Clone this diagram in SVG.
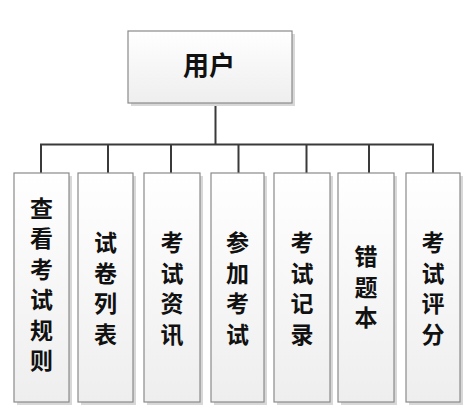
<svg xmlns="http://www.w3.org/2000/svg" width="474" height="418" viewBox="0 0 474 418">
<style>
.box{fill:url(#g);stroke:#8a8a8a;stroke-width:1.2}
.sh{fill:#d8d8d8}
.t{font-family:"Noto Sans CJK SC","Liberation Sans",sans-serif;font-weight:bold;font-size:23px;fill:#111;text-anchor:middle}
.c{stroke:#3a3a3a;stroke-width:2;fill:none}
</style>
<defs>
<linearGradient id="g" x1="0" y1="0" x2="0" y2="1">
<stop offset="0" stop-color="#ffffff"/>
<stop offset="1" stop-color="#eeeeee"/>
</linearGradient>
</defs>
<rect width="474" height="418" fill="#fff"/>
<g id="connectors">
<path class="c" d="M215.5 103V144.5M41 173V144.5H433V173M108 144.5V173M171 144.5V173M238.5 144.5V173M306.5 144.5V173M369 144.5V173"/>
</g>
<g id="user">
<rect class="sh" x="131" y="34" width="164" height="72"/>
<rect class="box" x="128" y="31" width="164" height="72"/>
<text class="t" x="209" y="75" style="font-size:26px">用户</text>
</g>
<g id="n1">
<rect class="sh" x="17" y="176" width="55" height="229"/>
<rect class="box" x="14" y="173" width="55" height="229"/>
<text class="t"><tspan x="41.5" y="216.5">查</tspan><tspan x="41.5" y="247">看</tspan><tspan x="41.5" y="277.5">考</tspan><tspan x="41.5" y="308">试</tspan><tspan x="41.5" y="338.5">规</tspan><tspan x="41.5" y="369">则</tspan></text>
</g>
<g id="n2">
<rect class="sh" x="81" y="176" width="55" height="229"/>
<rect class="box" x="78" y="173" width="55" height="229"/>
<text class="t"><tspan x="105.5" y="251">试</tspan><tspan x="105.5" y="281.5">卷</tspan><tspan x="105.5" y="312">列</tspan><tspan x="105.5" y="342.5">表</tspan></text>
</g>
<g id="n3">
<rect class="sh" x="147" y="176" width="56" height="229"/>
<rect class="box" x="144" y="173" width="56" height="229"/>
<text class="t"><tspan x="172" y="251">考</tspan><tspan x="172" y="281.5">试</tspan><tspan x="172" y="312">资</tspan><tspan x="172" y="342.5">讯</tspan></text>
</g>
<g id="n4">
<rect class="sh" x="214" y="176" width="53" height="229"/>
<rect class="box" x="211" y="173" width="53" height="229"/>
<text class="t"><tspan x="237.5" y="251">参</tspan><tspan x="237.5" y="281.5">加</tspan><tspan x="237.5" y="312">考</tspan><tspan x="237.5" y="342.5">试</tspan></text>
</g>
<g id="n5">
<rect class="sh" x="277" y="176" width="56" height="229"/>
<rect class="box" x="274" y="173" width="56" height="229"/>
<text class="t"><tspan x="302" y="251">考</tspan><tspan x="302" y="281.5">试</tspan><tspan x="302" y="312">记</tspan><tspan x="302" y="342.5">录</tspan></text>
</g>
<g id="n6">
<rect class="sh" x="341" y="176" width="56" height="229"/>
<rect class="box" x="338" y="173" width="56" height="229"/>
<text class="t"><tspan x="366" y="265">错</tspan><tspan x="366" y="295.5">题</tspan><tspan x="366" y="326">本</tspan></text>
</g>
<g id="n7">
<rect class="sh" x="409" y="176" width="54" height="229"/>
<rect class="box" x="406" y="173" width="54" height="229"/>
<text class="t"><tspan x="433" y="251">考</tspan><tspan x="433" y="281.5">试</tspan><tspan x="433" y="312">评</tspan><tspan x="433" y="342.5">分</tspan></text>
</g>
</svg>
